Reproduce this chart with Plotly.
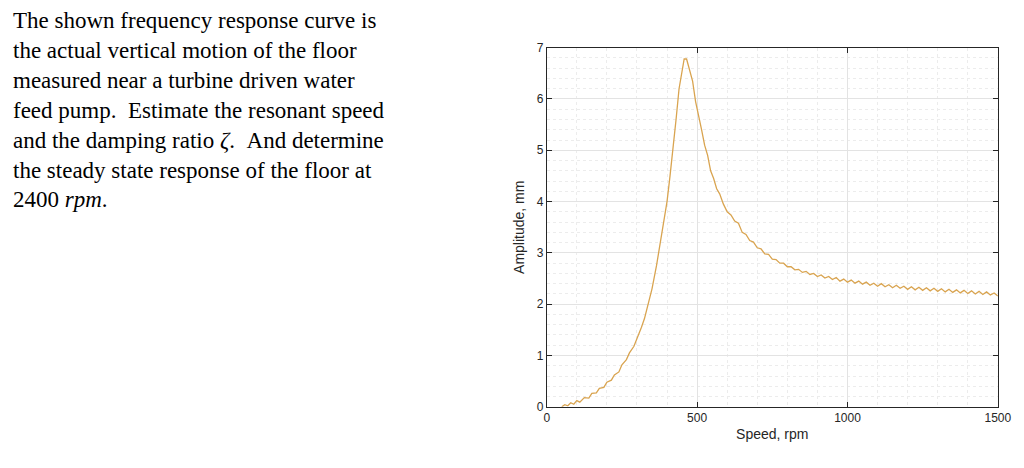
import plotly.graph_objects as go

speed = [50,60,70,80,90,100,110,125,140,150,165,175,190,200,215,225,240,250,265,275,290,300,315,325,340,350,365,375,390,400,410,420,430,440,450,457,465,475,485,495,505,515,525,535,545,555,565,575,587.5,
600,612.5,625,637.5,650,662.5,675,687.5,700,712.5,725,737.5,750,762.5,775,787.5,800,812.5,825,837.5,850,862.5,875,887.5,900,912.5,925,937.5,950,962.5,975,987.5,1000,1012.5,1025,1037.5,1050,1062.5,1075,1087.5,1100,1112.5,1125,1137.5,1150,1162.5,1175,1187.5,1200,1212.5,1225,1237.5,1250,1262.5,1275,1287.5,1300,1312.5,1325,1337.5,1350,1362.5,1375,1387.5,1400,1412.5,1425,1437.5,1450,1462.5,1475,1487.5,1500]
amplitude = [0,0.04,0.02,0.08,0.05,0.12,0.09,0.18,0.17,0.26,0.27,0.36,0.38,0.48,0.52,0.62,0.68,0.82,0.92,1.05,1.18,1.32,1.55,1.72,2.05,2.3,2.75,3.1,3.6,4.0,4.5,5.0,5.6,6.2,6.55,6.78,6.78,6.55,6.35,5.95,5.7,5.4,5.1,4.9,4.6,4.45,4.25,4.15,3.95,
3.80,3.74,3.62,3.58,3.40,3.36,3.24,3.21,3.10,3.08,2.98,2.97,2.88,2.87,2.80,2.80,2.73,2.73,2.67,2.68,2.62,2.64,2.58,2.60,2.54,2.57,2.51,2.54,2.48,2.52,2.45,2.49,2.43,2.47,2.41,2.45,2.39,2.43,2.37,2.41,2.35,2.40,2.34,2.38,2.32,2.37,2.31,2.35,2.29,2.34,2.28,2.33,2.27,2.32,2.26,2.31,2.25,2.30,2.24,2.29,2.23,2.28,2.22,2.27,2.21,2.26,2.20,2.25,2.19,2.24,2.18,2.22,2.16]

problem_text = ("The shown frequency response curve is<br>the actual vertical motion of the floor<br>"
                "measured near a turbine driven water<br>feed pump.  Estimate the resonant speed<br>"
                "and the damping ratio <i>ζ</i>.  And determine<br>the steady state response of the floor at<br>"
                "2400 <i>rpm</i>.")

fig = go.Figure(go.Scatter(x=speed, y=amplitude, mode="lines",
                           line=dict(color="#D9A450", width=1.3), hoverinfo="skip"))
axis_common = dict(showline=True, linecolor="#262626", linewidth=1, mirror="ticks", ticks="inside",
                   ticklen=5, tickcolor="#262626", showgrid=True, gridcolor="#e3e3e3", zeroline=False,
                   tickfont=dict(family="Liberation Sans, Arial", size=12, color="#262626"),
                   minor=dict(showgrid=True, gridcolor="#ececec", griddash="dot"))
fig.update_xaxes(**axis_common, range=[0, 1500], tickvals=[0, 500, 1000, 1500],
                 minor_dtick=100, domain=[0.532, 0.98],
                 title=dict(text="Speed, rpm", standoff=4, font=dict(family="Liberation Sans, Arial", size=14, color="#262626")))
fig.update_yaxes(**axis_common, range=[0, 7], dtick=1, minor_dtick=0.2, domain=[0.137, 0.928],
                 title=dict(text="Amplitude, mm", standoff=8, font=dict(family="Liberation Sans, Arial", size=14, color="#262626")))
fig.add_annotation(text=problem_text, xref="paper", yref="paper", x=0.0, y=1.02,
                   xanchor="left", yanchor="top", align="left", showarrow=False,
                   font=dict(family="Liberation Serif, Times New Roman", size=23, color="black"))
fig.update_layout(width=1024, height=468, margin=dict(l=0, r=0, t=0, b=0),
                  paper_bgcolor="white", plot_bgcolor="white", showlegend=False)
fig.write_html("out.html")
